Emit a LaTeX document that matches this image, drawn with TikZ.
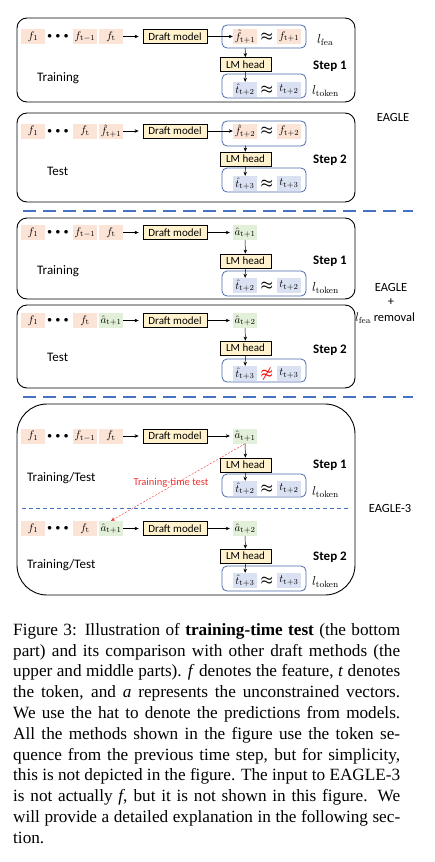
\RequirePackage{fix-cm}
\documentclass[tikz,border=0pt]{standalone}
\usepackage{amsmath,amssymb}
\usepackage[no-math]{fontspec}
\setmainfont{Carlito}
\newfontfamily\capfont{Liberation Serif}
\usepackage{xcolor}
\usepackage{tikz}
\usetikzlibrary{arrows.meta,positioning}
\definecolor{FeaFill}{HTML}{FBE3D6}
\definecolor{TokFill}{HTML}{DAE1F2}
\definecolor{VecFill}{HTML}{E2F0D9}
\definecolor{ModFill}{HTML}{FFF2CC}
\definecolor{GrpBlue}{HTML}{4A6AA8}
\definecolor{SepBlue}{HTML}{4472C4}
\definecolor{TttRed}{HTML}{F03030}

\tikzset{
  panel/.style={draw, line width=0.9pt, rounded corners=10pt},
  fea/.style={fill=FeaFill, minimum width=24pt, minimum height=15pt, inner sep=0pt, font=\fontsize{11}{13}\selectfont},
  tok/.style={fea, fill=TokFill},
  vec/.style={fea, fill=VecFill},
  modbox/.style={draw, fill=ModFill, line width=0.8pt, minimum height=14pt, inner sep=0pt, font=\fontsize{11}{13}\selectfont},
  grp/.style={draw=GrpBlue, line width=0.8pt, rounded corners=5pt},
  approx/.style={inner sep=0pt, font=\fontsize{14}{16}\selectfont},
  dots/.style={inner sep=0pt, font=\fontsize{9}{11}\selectfont},
  arr/.style={-{Stealth[length=4pt,width=3.5pt]}, line width=0.5pt},
  steplab/.style={font=\bfseries\fontsize{13}{15}\selectfont},
  phase/.style={anchor=west, inner sep=0pt, font=\fontsize{13}{15}\selectfont},
  loss/.style={anchor=west, inner sep=0pt, font=\fontsize{13}{15}\selectfont},
  method/.style={align=center, inner sep=0pt, font=\fontsize{12.5}{15}\selectfont},
  sep/.style={draw=SepBlue, line width=1.6pt, dash pattern=on 13pt off 7pt},
}
\newcommand{\capline}[1]{\makebox[387pt][s]{#1}}

\begin{document}
\begin{tikzpicture}[x=1pt, y=-1pt]
  \useasboundingbox (0,0) rectangle (434,862);

  % EAGLE, training
  \draw[panel] (17,18) rectangle (355,102);
  \draw[grp] (222,25) rectangle (306,48);
  \draw[grp] (222,74) rectangle (306,98);
  \node[fea] (p1f1) at (33,36.5) {$f_1$};
  \node[dots] (p1dots) at (58,36.5) {$\bullet\,\bullet\,\bullet$};
  \node[fea] (p1ftm) at (85,36.5) {$f_{\mathrm{t-1}}$};
  \node[fea] (p1ft) at (111,36.5) {$f_{\mathrm{t}}$};
  \node[modbox, minimum width=64pt] (p1dm) at (175,36.5) {Draft model};
  \node[fea] (p1fh) at (245,36.5) {$\hat{f}_{\mathrm{t+1}}$};
  \node[approx] (p1ap1) at (267,36.5) {$\boldsymbol{\approx}$};
  \node[fea] (p1fn) at (289,36.5) {$f_{\mathrm{t+1}}$};
  \node[loss] (p1lf) at (317,40) {$l_{\mathrm{fea}}$};
  \node[modbox, minimum width=51pt] (p1lm) at (245.5,64.5) {LM head};
  \node[steplab] (p1st) at (330,66) {Step 1};
  \node[phase] (p1ph) at (37,78) {Training};
  \node[tok] (p1th) at (245,89.5) {$\hat{t}_{\mathrm{t+2}}$};
  \node[approx] (p1ap2) at (267,89.5) {$\boldsymbol{\approx}$};
  \node[tok] (p1tn) at (289,89.5) {$t_{\mathrm{t+2}}$};
  \node[loss] (p1lt) at (312,91) {$l_{\mathrm{token}}$};
  \draw[arr, shorten >=4pt] (p1ft) -- (p1dm);
  \draw[arr] (p1dm) -- (p1fh);
  \draw[arr, shorten <=4pt] (p1fh) -- (p1lm);
  \draw[arr] (p1lm) -- (p1th);

  % EAGLE, test
  \draw[panel] (17,113) rectangle (355,202);
  \draw[grp] (222,121) rectangle (306,146);
  \draw[grp] (222,168) rectangle (306,192);
  \node[fea] (p2f1) at (33,131) {$f_1$};
  \node[dots] (p2dots) at (58,131) {$\bullet\,\bullet\,\bullet$};
  \node[fea] (p2ft) at (85,131) {$f_{\mathrm{t}}$};
  \node[fea] (p2fp) at (111,131) {$\hat{f}_{\mathrm{t+1}}$};
  \node[modbox, minimum width=64pt] (p2dm) at (175,131) {Draft model};
  \node[fea] (p2fh) at (245,131) {$\hat{f}_{\mathrm{t+2}}$};
  \node[approx] (p2ap1) at (267,131) {$\boldsymbol{\approx}$};
  \node[fea] (p2fn) at (289,131) {$f_{\mathrm{t+2}}$};
  \node[modbox, minimum width=51pt] (p2lm) at (245.5,159) {LM head};
  \node[steplab] (p2st) at (330,160) {Step 2};
  \node[phase] (p2ph) at (47,171) {Test};
  \node[tok] (p2th) at (245,183.5) {$\hat{t}_{\mathrm{t+3}}$};
  \node[approx] (p2ap2) at (267,183.5) {$\boldsymbol{\approx}$};
  \node[tok] (p2tn) at (289,183.5) {$t_{\mathrm{t+3}}$};
  \draw[arr, shorten >=4pt] (p2fp) -- (p2dm);
  \draw[arr] (p2dm) -- (p2fh);
  \draw[arr, shorten <=7pt] (p2fh) -- (p2lm);
  \draw[arr] (p2lm) -- (p2th);
  \node[method] (m1) at (393,117) {EAGLE};

  \draw[sep] (23,211) -- (413,211);

  % EAGLE + l_fea removal, training
  \draw[panel] (17,218) rectangle (355,299);
  \draw[grp] (222,271) rectangle (306,296);
  \node[fea] (p3f1) at (33,232.5) {$f_1$};
  \node[dots] (p3dots) at (58,232.5) {$\bullet\,\bullet\,\bullet$};
  \node[fea] (p3ftm) at (85,232.5) {$f_{\mathrm{t-1}}$};
  \node[fea] (p3ft) at (111,232.5) {$f_{\mathrm{t}}$};
  \node[modbox, minimum width=64pt] (p3dm) at (175,232.5) {Draft model};
  \node[vec] (p3ah) at (245,232.5) {$\hat{a}_{\mathrm{t+1}}$};
  \node[modbox, minimum width=51pt] (p3lm) at (245.5,261) {LM head};
  \node[steplab] (p3st) at (330,261) {Step 1};
  \node[phase] (p3ph) at (37,271) {Training};
  \node[tok] (p3th) at (245,285.5) {$\hat{t}_{\mathrm{t+2}}$};
  \node[approx] (p3ap2) at (267,285.5) {$\boldsymbol{\approx}$};
  \node[tok] (p3tn) at (289,285.5) {$t_{\mathrm{t+2}}$};
  \node[loss] (p3lt) at (312,288) {$l_{\mathrm{token}}$};
  \draw[arr, shorten >=4pt] (p3ft) -- (p3dm);
  \draw[arr, shorten >=3pt] (p3dm) -- (p3ah);
  \draw[arr] (p3ah) -- (p3lm);
  \draw[arr] (p3lm) -- (p3th);

  % EAGLE + l_fea removal, test
  \draw[panel] (17,305) rectangle (355,388);
  \draw[grp] (222,359) rectangle (306,382);
  \node[fea] (p4f1) at (33,320.5) {$f_1$};
  \node[dots] (p4dots) at (58,320.5) {$\bullet\,\bullet\,\bullet$};
  \node[fea] (p4ft) at (85,320.5) {$f_{\mathrm{t}}$};
  \node[vec] (p4ap) at (111,320.5) {$\hat{a}_{\mathrm{t+1}}$};
  \node[modbox, minimum width=64pt] (p4dm) at (175,320.5) {Draft model};
  \node[vec] (p4ah) at (245,320.5) {$\hat{a}_{\mathrm{t+2}}$};
  \node[modbox, minimum width=51pt] (p4lm) at (245.5,348) {LM head};
  \node[steplab] (p4st) at (330,350) {Step 2};
  \node[phase] (p4ph) at (47,357) {Test};
  \node[tok] (p4th) at (245,373.5) {$\hat{t}_{\mathrm{t+3}}$};
  \node[approx, text=red] (p4ne) at (267,373.5) {$\boldsymbol{\not\approx}$};
  \node[tok] (p4tn) at (289,373.5) {$t_{\mathrm{t+3}}$};
  \draw[arr, shorten >=4pt] (p4ap) -- (p4dm);
  \draw[arr, shorten >=3pt] (p4dm) -- (p4ah);
  \draw[arr] (p4ah) -- (p4lm);
  \draw[arr] (p4lm) -- (p4th);
  \node[method] (m2a) at (391,287) {EAGLE};
  \node[method] (m2b) at (391,302) {+};
  \node[method, anchor=west] (m2c) at (355,318) {$l_{\mathrm{fea}}$ removal};

  \draw[sep] (23,397) -- (413,397);

  % EAGLE-3, training-time test
  \draw[panel, rounded corners=30pt] (17,404) rectangle (355,595);
  \draw[grp] (222,474) rectangle (306,497);
  \draw[grp] (222,566) rectangle (306,591);
  \node[fea] (p5f1) at (33,436) {$f_1$};
  \node[dots] (p5dots) at (58,436) {$\bullet\,\bullet\,\bullet$};
  \node[fea] (p5ftm) at (85,436) {$f_{\mathrm{t-1}}$};
  \node[fea] (p5ft) at (111,436) {$f_{\mathrm{t}}$};
  \node[modbox, minimum width=64pt] (p5dm) at (175,436) {Draft model};
  \node[vec] (p5ah) at (245,436) {$\hat{a}_{\mathrm{t+1}}$};
  \node[modbox, minimum width=51pt] (p5lm) at (245.5,465) {LM head};
  \node[steplab] (p5st) at (330,465) {Step 1};
  \node[phase] (p5ph) at (27,478) {Training/Test};
  \node[tok] (p5th) at (245,488.5) {$\hat{t}_{\mathrm{t+2}}$};
  \node[approx] (p5ap2) at (267,488.5) {$\boldsymbol{\approx}$};
  \node[tok] (p5tn) at (289,488.5) {$t_{\mathrm{t+2}}$};
  \node[loss] (p5lt) at (312,492) {$l_{\mathrm{token}}$};
  \draw[arr, shorten >=4pt] (p5ft) -- (p5dm);
  \draw[arr, shorten >=3pt] (p5dm) -- (p5ah);
  \draw[arr] (p5ah) -- (p5lm);
  \draw[arr] (p5lm) -- (p5th);

  \draw[draw=SepBlue, line width=0.6pt, dash pattern=on 4pt off 3pt] (22,508) -- (348,508);

  \node[fea] (q5f1) at (33,528.5) {$f_1$};
  \node[dots] (q5dots) at (58,528.5) {$\bullet\,\bullet\,\bullet$};
  \node[fea] (q5ft) at (85,528.5) {$f_{\mathrm{t}}$};
  \node[vec] (q5ap) at (111,528.5) {$\hat{a}_{\mathrm{t+1}}$};
  \node[modbox, minimum width=64pt] (q5dm) at (175,528.5) {Draft model};
  \node[vec] (q5ah) at (245,528.5) {$\hat{a}_{\mathrm{t+2}}$};
  \node[modbox, minimum width=51pt] (q5lm) at (245.5,556) {LM head};
  \node[steplab] (q5st) at (330,557) {Step 2};
  \node[phase] (q5ph) at (27,565) {Training/Test};
  \node[tok] (q5th) at (245,580.5) {$\hat{t}_{\mathrm{t+3}}$};
  \node[approx] (q5ap2) at (267,580.5) {$\boldsymbol{\approx}$};
  \node[tok] (q5tn) at (289,580.5) {$t_{\mathrm{t+3}}$};
  \node[loss] (q5lt) at (312,582) {$l_{\mathrm{token}}$};
  \draw[arr, shorten >=4pt] (q5ap) -- (q5dm);
  \draw[arr, shorten >=3pt] (q5dm) -- (q5ah);
  \draw[arr] (q5ah) -- (q5lm);
  \draw[arr] (q5lm) -- (q5th);

  % training-time test loop
  \draw[arr, draw=TttRed, line width=0.4pt, dash pattern=on 2pt off 1.5pt] (p5ah.south) -- (q5ap.north);
  \node[text=TttRed, font=\fontsize{10.5}{12}\selectfont] (ttt) at (171,483) {Training-time test};
  \node[method] (m3) at (390,508) {EAGLE-3};

  % caption
  \node[anchor=north west, inner sep=0pt, align=left, font=\capfont\fontsize{17.2}{20.8}\selectfont] (cap) at (13,623) {%
    \capline{Figure 3: Illustration of \textbf{training-time test} (the bottom}\\
    \capline{part) and its comparison with other draft methods (the}\\
    \capline{upper and middle parts). \textit{f} denotes the feature, \textit{t} denotes}\\
    \capline{the token, and \textit{a} represents the unconstrained vectors.}\\
    \capline{We use the hat to denote the predictions from models.}\\
    \capline{All the methods shown in the figure use the token se-}\\
    \capline{quence from the previous time step, but for simplicity,}\\
    \capline{this is not depicted in the figure. The input to EAGLE-3}\\
    \capline{is not actually \textit{f}, but it is not shown in this figure. We}\\
    \capline{will provide a detailed explanation in the following sec-}\\
    tion.};
\end{tikzpicture}
\end{document}
